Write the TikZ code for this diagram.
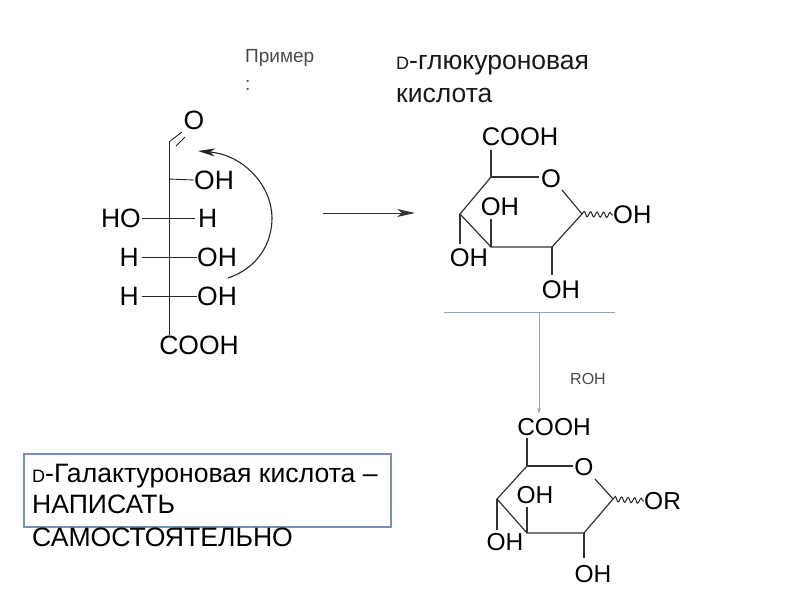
\documentclass[tikz,border=0pt]{standalone}
\usepackage{fontspec}
\setmainfont{Liberation Sans}
\usetikzlibrary{arrows.meta,decorations.pathmorphing}
\definecolor{steel}{HTML}{8FA6BF}
\definecolor{boxblue}{HTML}{6E93BD}
\definecolor{capgray}{HTML}{4A4A4A}
\tikzset{
  x=1pt,y=-1pt,
  atom/.style={font=\fontsize{26.5}{26.5}\selectfont,inner sep=0pt,text=black},
  atoma/.style={font=\fontsize{25.5}{25.5}\selectfont,inner sep=0pt,text=black},
  atomb/.style={font=\fontsize{24.5}{24.5}\selectfont,inner sep=0pt,text=black},
  bond/.style={line width=1.2pt,black!80},
  thin bond/.style={line width=0.9pt,black!85},
  wavy/.style={line width=1pt,black!85,decorate,decoration={snake,amplitude=2.6pt,segment length=6.5pt}},
  caption/.style={font=\fontsize{26.5}{26.5}\selectfont,inner sep=0pt,anchor=west,text=black!90},
  small/.style={font=\fontsize{19}{19}\selectfont,inner sep=0pt,anchor=west,text=capgray},
  task/.style={font=\fontsize{26.6}{26.6}\selectfont,inner sep=0pt,anchor=west,text=black},
  reagent/.style={line width=1pt,steel}
}
\begin{document}
\begin{tikzpicture}
\useasboundingbox (0,0) rectangle (800,600);
% captions
\node[small] (ex1) at (245,58) {Пример};
\node[small] (ex2) at (245,85) {:};
\node[caption] (gl1) at (396,65) {{\fontsize{18}{18}\selectfont D}-глюкуроновая};
\node[caption] (gl2) at (396,95) {кислота};
% open chain
\coordinate (top) at (169,142);
\coordinate (bot) at (169,335);
\coordinate (r1) at (169,179);
\coordinate (c2l) at (142,218);
\coordinate (c2r) at (195,218);
\coordinate (c3l) at (142,257);
\coordinate (c3r) at (197,257);
\coordinate (c4l) at (142,296);
\coordinate (c4r) at (197,296);
\coordinate (co) at (182,132);
\coordinate (d1) at (176,146);
\coordinate (d2) at (185,137);
\node[atom] (oald) at (194,120) {O};
\node[atom,anchor=west] (oh1) at (194,180) {OH};
\node[atom,anchor=east] (ho) at (141,218) {HO};
\node[atom,anchor=west] (h2) at (198,218) {H};
\node[atom,anchor=east] (h3) at (139,257) {H};
\node[atom,anchor=west] (oh3) at (197,257) {OH};
\node[atom,anchor=east] (h4) at (139,296) {H};
\node[atom,anchor=west] (oh4) at (197,296) {OH};
\node[atom] (cooh0) at (199,345) {COOH};
\draw[thin bond] (top) -- (bot);
\draw[thin bond] (top) -- (co);
\draw[thin bond] (d1) -- (d2);
\draw[thin bond] (r1) -- (oh1.west);
\draw[thin bond] (c2l) -- (c2r);
\draw[thin bond] (c3l) -- (c3r);
\draw[thin bond] (c4l) -- (c4r);
% curved arrow
\coordinate (cs) at (228,278);
\coordinate (ce) at (198,151);
\draw[line width=1.1pt,black!85,-{Stealth[length=17pt,width=8pt,inset=5pt]}] (cs) .. controls (258,268) and (272,243) .. (272,218) .. controls (272,187) and (245,155) .. (ce);
% main arrow
\coordinate (a1) at (323,213);
\coordinate (a2) at (415,213);
\draw[line width=0.9pt,black!80,-{Stealth[length=18pt,width=8pt,inset=5pt]}] (a1) -- (a2);
% first ring
\coordinate (A) at (491,177);
\coordinate (B) at (582,214);
\coordinate (C) at (552,247);
\coordinate (D) at (491,247);
\coordinate (E) at (460,214);
\node[atoma] (Oa) at (551,179) {O};
\node[atoma] (cooha) at (520,137) {COOH};
\node[atoma] (oha1) at (500,207) {OH};
\node[atoma] (oha2) at (469,258) {OH};
\node[atoma] (oha3) at (561,290) {OH};
\node[atoma,anchor=west] (oha4) at (613,215) {OH};
\draw[bond] (A) -- (539,177);
\draw[bond] (562,190) -- (B) -- (C) -- (D) -- (E) -- (A);
\draw[bond] (A) -- (491,150);
\draw[bond] (D) -- (491,219);
\draw[bond] (E) -- (460,244);
\draw[bond] (C) -- (552,275);
\draw[wavy] (B) -- (oha4.west);
% reagent
\coordinate (t1) at (444,312);
\coordinate (t2) at (615,312);
\coordinate (t3) at (539,312);
\coordinate (t4) at (539,413);
\draw[reagent] (t1) -- (t2);
\draw[reagent,-{Stealth[length=5pt,width=4pt]}] (t3) -- (t4);
\node[font=\fontsize{16}{16}\selectfont,inner sep=0pt,text=capgray] (roh) at (588,379) {ROH};
% second ring
\coordinate (P) at (527,466);
\coordinate (Q) at (613,499);
\coordinate (R) at (584,533);
\coordinate (S) at (527,533);
\coordinate (T) at (497,499);
\node[atomb] (Ob) at (584,467) {O};
\node[atomb] (coohb) at (554,427) {COOH};
\node[atomb] (ohb1) at (535,495) {OH};
\node[atomb] (ohb2) at (505,542) {OH};
\node[atomb] (ohb3) at (593,574) {OH};
\node[atomb,anchor=west] (orb) at (644,501) {OR};
\draw[bond] (P) -- (573,466);
\draw[bond] (595,479) -- (Q) -- (R) -- (S) -- (T) -- (P);
\draw[bond] (P) -- (527,438);
\draw[bond] (S) -- (527,507);
\draw[bond] (T) -- (497,530);
\draw[bond] (R) -- (584,558);
\draw[wavy] (Q) -- (orb.west);
% task box
\node[draw=boxblue,line width=1.5pt,fill=white,minimum width=367pt,minimum height=73pt,inner sep=0pt,anchor=north west] (box) at (23,453) {};
\node[task] (tk1) at (32,476) {{\fontsize{18}{18}\selectfont D}-Галактуроновая кислота –};
\node[task] (tk2) at (32,504) {НАПИСАТЬ};
\node[task] (tk3) at (32,537) {САМОСТОЯТЕЛЬНО};
\end{tikzpicture}
\end{document}
